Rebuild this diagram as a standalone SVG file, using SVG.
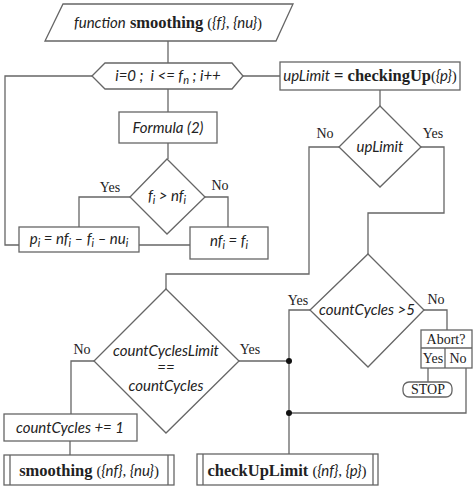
<svg xmlns="http://www.w3.org/2000/svg" width="474" height="490" viewBox="0 0 474 490">
<style>
.s{fill:#fff;stroke:#666;stroke-width:1.3}
.c{fill:none;stroke:#666;stroke-width:1.3}
.it{font-family:Lato,"Liberation Sans",sans-serif;font-style:italic;font-size:15px;fill:#222}
.sr{font-family:"Liberation Serif","DejaVu Serif",serif;font-size:14px;fill:#222}
.b{font-family:"Liberation Serif","DejaVu Serif",serif;font-weight:bold;font-style:normal;font-size:16.5px}
.n{font-family:"Liberation Serif","DejaVu Serif",serif;font-style:normal}
.sub{font-size:11px}
text{text-anchor:middle}
</style>
<g id="connectors">
<path class="c" d="M168,41V63"/>
<path class="c" d="M92,76H5V245H19"/>
<path class="c" d="M243,76H280"/>
<path class="c" d="M168,89V112"/>
<path class="c" d="M168,143V159"/>
<path class="c" d="M130,197H79V227"/>
<path class="c" d="M205,197H228V227"/>
<path class="c" d="M139,245H190"/>
<path class="c" d="M380,90V106"/>
<path class="c" d="M339,147H309V274H166V289"/>
<path class="c" d="M421,147H444V213H368V254"/>
<path class="c" d="M310,310H289V454"/>
<path class="c" d="M424,310H447V330"/>
<path class="c" d="M428,368V382"/>
<path class="c" d="M466,368V413H289"/>
<path class="c" d="M239,361H289"/>
<path class="c" d="M94,361H71V414"/>
<path class="c" d="M70,441V455"/>
<circle cx="289" cy="361" r="3" fill="#111"/>
<circle cx="289" cy="413" r="3" fill="#111"/>
<text class="sr" x="110" y="192">Yes</text>
<text class="sr" x="220" y="190">No</text>
<text class="sr" x="325" y="138">No</text>
<text class="sr" x="433" y="138">Yes</text>
<text class="sr" x="298" y="305">Yes</text>
<text class="sr" x="436" y="304">No</text>
<text class="sr" x="82" y="354">No</text>
<text class="sr" x="250" y="354">Yes</text>
</g>
<g id="start">
<polygon class="s" points="63,4 293,4 276,41 45,41"/>
<text class="it" x="168" y="28">function<tspan class="b"> smoothing </tspan><tspan class="n">(</tspan>{f}<tspan class="n">, </tspan>{nu}<tspan class="n">)</tspan></text>
</g>
<g id="loop">
<polygon class="s" points="92,76 105,63 232,63 243,76 232,89 105,89"/>
<text class="it" x="168" y="81">i=0 ;&#160; i &lt;= f<tspan class="sub" dy="3">n</tspan><tspan dy="-3"> ; i++</tspan></text>
</g>
<g id="uplimit-assign">
<rect class="s" x="280" y="62" width="180" height="28"/>
<text class="it" x="370" y="81">upLimit<tspan class="b"> = checkingUp</tspan><tspan class="n">(</tspan>{p}<tspan class="n">)</tspan></text>
</g>
<g id="formula">
<rect class="s" x="119" y="112" width="98" height="31"/>
<text class="it" x="168" y="133" font-size="16">Formula (2)</text>
</g>
<g id="cond-f">
<polygon class="s" points="167,159 205,197 167,234 130,197"/>
<text class="it" x="167" y="201">f<tspan class="sub" dy="3">i</tspan><tspan dy="-3"> &gt; nf</tspan><tspan class="sub" dy="3">i</tspan></text>
</g>
<g id="p-assign">
<rect class="s" x="19" y="227" width="120" height="25"/>
<text class="it" x="79" y="244">p<tspan class="sub" dy="3">i</tspan><tspan dy="-3"> = nf</tspan><tspan class="sub" dy="3">i</tspan><tspan dy="-3"> – f</tspan><tspan class="sub" dy="3">i</tspan><tspan dy="-3"> – nu</tspan><tspan class="sub" dy="3">i</tspan></text>
</g>
<g id="nf-assign">
<rect class="s" x="190" y="227" width="78" height="32"/>
<text class="it" x="229" y="246">nf<tspan class="sub" dy="3">i</tspan><tspan dy="-3"> = f</tspan><tspan class="sub" dy="3">i</tspan></text>
</g>
<g id="cond-uplimit">
<polygon class="s" points="380,106 421,147 380,187 339,147"/>
<text class="it" x="380" y="152" font-size="14.5">upLimit</text>
</g>
<g id="cond-cycles">
<polygon class="s" points="368,254 424,310 368,367 310,310"/>
<text class="it" x="367" y="315" font-size="14">countCycles &gt;5</text>
</g>
<g id="abort">
<rect class="s" x="421" y="330" width="51" height="38"/>
<path class="c" d="M421,348H472M445,348V368"/>
<text class="sr" x="446" y="344">Abort?</text>
<text class="sr" x="433" y="363">Yes</text>
<text class="sr" x="458" y="363">No</text>
</g>
<g id="stop">
<rect class="s" x="403" y="382" width="49" height="15" rx="6"/>
<text class="sr" x="428" y="394">STOP</text>
</g>
<g id="cond-limit">
<polygon class="s" points="166,289 239,361 166,433 94,361"/>
<text class="it" x="166" y="356">countCyclesLimit</text>
<text class="it" x="166" y="373">==</text>
<text class="it" x="166" y="391">countCycles</text>
</g>
<g id="inc">
<rect class="s" x="4" y="414" width="133" height="27"/>
<text class="it" x="70" y="433" font-size="14.5">countCycles += 1</text>
</g>
<g id="smoothing-call">
<rect class="s" x="4" y="455" width="170" height="30"/>
<path class="c" d="M10,455V485M168,455V485"/>
<text class="it" x="89" y="476"><tspan class="b">smoothing </tspan><tspan class="n">(</tspan>{nf}<tspan class="n">, </tspan>{nu}<tspan class="n">)</tspan></text>
</g>
<g id="checkup-call">
<rect class="s" x="197" y="454" width="181" height="31"/>
<path class="c" d="M203,454V485M373,454V485"/>
<text class="it" x="287" y="476"><tspan class="b">checkUpLimit </tspan><tspan class="n">(</tspan>{nf}<tspan class="n">, </tspan>{p}<tspan class="n">)</tspan></text>
</g>
</svg>
